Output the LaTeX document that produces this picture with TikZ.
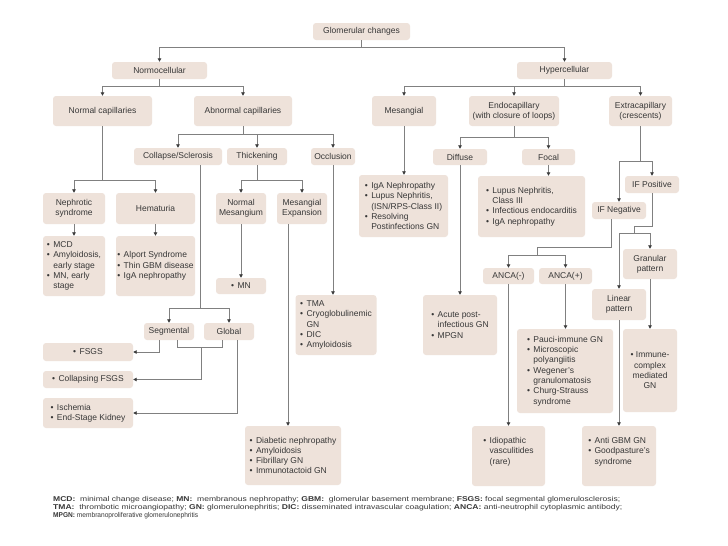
\documentclass[tikz,border=0pt]{standalone}
\usepackage{graphicx}
\usepackage{fontspec}
\setmainfont{Liberation Sans}
\usetikzlibrary{arrows.meta}
\definecolor{boxc}{RGB}{238,226,218}
\definecolor{linec}{RGB}{128,128,128}
\definecolor{txtc}{RGB}{55,55,55}
\definecolor{tipc}{RGB}{60,60,60}
\newcommand\bu{\makebox[0.75em][l]{•}}
\newcommand\ind{\hspace*{0.75em}}
\begin{document}
\begin{tikzpicture}[x=1pt,y=-1pt,
  box/.style={rectangle,rounded corners=3pt,fill=boxc,draw=none,text=txtc,inner sep=0pt,
    font=\fontsize{8.5}{10.3}\selectfont,align=center},
  lst/.style={box,align=left},
  wh/.style 2 args={minimum width=#1pt,minimum height=#2pt},
  ln/.style={draw=linec,line width=1pt},
  arr/.style={ln,-{Triangle[length=3.5pt,width=3.5pt,color=tipc]}},
  foot/.style={anchor=west,inner sep=0pt,text=txtc,font=\fontsize{7}{8}\selectfont}]
\useasboundingbox (0,0) rectangle (728,546);
\fill[white] (0,0) rectangle (728,546);

% level 0-2
\node[box,wh={97}{17}] (gc) at (361.5,31.5) {Glomerular changes};
\node[box,wh={95}{17}] (normo) at (159.5,70.5) {Normocellular};
\node[box,wh={95}{17}] (hyper) at (564.5,70.5) {Hypercellular};
\node[box,wh={99}{30}] (ncap) at (102.5,111) {Normal capillaries};
\node[box,wh={98}{30}] (acap) at (243,111) {Abnormal capillaries};
\node[box,wh={64}{30}] (mes) at (404,111) {Mesangial};
\node[box,wh={90}{30}] (endo) at (514,111) {Endocapillary\\(with closure of loops)};
\node[box,wh={63}{30}] (extra) at (640.5,111) {Extracapillary\\(crescents)};
% level 3
\node[box,wh={88}{17}] (collapse) at (178,156.5) {Collapse/Sclerosis};
\node[box,wh={60}{17}] (thick) at (257,156.5) {Thickening};
\node[box,wh={44}{17}] (occl) at (333,156.5) {Occlusion};
\node[box,wh={54}{16}] (diffuse) at (460,157) {Diffuse};
\node[box,wh={53}{16}] (focal) at (548.5,157) {Focal};
% level 4
\node[box,wh={62}{31}] (nephrotic) at (74,208.5) {Nephrotic\\syndrome};
\node[box,wh={79}{31}] (hematuria) at (155.5,208.5) {Hematuria};
\node[box,wh={50}{31}] (normmes) at (241,208.5) {Normal\\Mesangium};
\node[box,wh={50}{31}] (mesexp) at (302,208.5) {Mesangial\\Expansion};
\node[lst,wh={89}{62}] (mesres) at (403.5,206) {\bu IgA Nephropathy\\ \bu Lupus Nephritis,\\ \ind (ISN/RPS-Class II)\\ \bu Resolving\\ \ind Postinfections GN};
\node[lst,wh={107}{61}] (focalres) at (531.5,206.5) {\bu Lupus Nephritis,\\ \ind Class III\\ \bu Infectious endocarditis\\ \bu IgA nephropathy};
\node[box,wh={54}{17}] (ifpos) at (652,184.5) {IF Positive};
\node[box,wh={54}{17}] (ifneg) at (619,210.5) {IF Negative};
% level 5
\node[lst,wh={62}{60}] (mcd) at (74,266) {\bu MCD\\ \bu Amyloidosis,\\ \ind early stage\\ \bu MN, early\\ \ind stage};
\node[lst,wh={79}{60}] (alport) at (155.5,266) {\bu Alport Syndrome\\ \bu Thin GBM disease\\ \bu IgA nephropathy};
\node[box,wh={50}{16}] (mn) at (241,286) {\bu MN};
\node[box,wh={54}{30}] (granular) at (650,264) {Granular\\pattern};
\node[box,wh={51}{16}] (ancaneg) at (508.5,276) {ANCA(-)};
\node[box,wh={53}{16}] (ancapos) at (565.5,276) {ANCA(+)};
\node[box,wh={54}{31}] (linear) at (619,304.5) {Linear\\pattern};
\node[lst,wh={81}{60}] (tma) at (336,325) {\bu TMA\\ \bu Cryoglobulinemic\\ \ind GN\\ \bu DIC\\ \bu Amyloidosis};
\node[lst,wh={74}{60}] (acute) at (460,325) {\bu Acute post-\\ \ind infectious GN\\ \bu MPGN};
\node[box,wh={50}{17}] (seg) at (169,331.5) {Segmental};
\node[box,wh={50}{17}] (glob) at (229,331.5) {Global};
\node[box,wh={90}{18}] (fsgs) at (88,352) {\bu FSGS};
\node[box,wh={90}{17}] (collfsgs) at (88,379.5) {\bu Collapsing FSGS};
\node[lst,wh={90}{30}] (isch) at (88,413) {\bu Ischemia\\ \bu End-Stage Kidney};
\node[lst,wh={96}{84}] (pauci) at (565,371) {\bu Pauci-immune GN\\ \bu Microscopic\\ \ind polyangiitis\\ \bu Wegener's\\ \ind granulomatosis\\ \bu Churg-Strauss\\ \ind syndrome};
\node[box,wh={54}{83}] (immune) at (650,370.5) {• Immune-\\complex\\mediated\\GN};
\node[lst,wh={96}{59}] (diab) at (293,455.5) {\bu Diabetic nephropathy\\ \bu Amyloidosis\\ \bu Fibrillary GN\\ \bu Immunotactoid GN};
\node[lst,wh={73}{60}] (idio) at (508.5,456) {\bu Idiopathic\\ \ind vasculitides\\ \ind (rare)\\ \mbox{}};
\node[lst,wh={74}{60}] (antigbm) at (619,456) {\bu Anti GBM GN\\ \bu Goodpasture's\\ \ind syndrome\\ \mbox{}};

% connectors
\draw[ln] (gc.south) -- (gc.south |- 0,47) coordinate (j1);
\draw[arr] (j1) -| (normo.north);
\draw[arr] (j1) -| (hyper.north);
\draw[ln] (normo.south) -- (normo.south |- 0,86) coordinate (j2);
\draw[arr] (j2) -| (ncap.north);
\draw[arr] (j2) -| (acap.north);
\draw[ln] (hyper.south) -- (hyper.south |- 0,86) coordinate (j3);
\draw[arr] (j3) -| (mes.north);
\draw[arr] (j3) -| (endo.north);
\draw[arr] (j3) -| (extra.north);
\draw[ln] (acap.south) -- (acap.south |- 0,134) coordinate (j4);
\draw[arr] (j4) -| (collapse.north);
\draw[arr] (j4) -| (thick.north);
\draw[arr] (j4) -| (occl.north);
\draw[ln] (endo.south) -- (endo.south |- 0,137) coordinate (j5);
\draw[arr] (j5) -| (diffuse.north);
\draw[arr] (j5) -| (focal.north);
\draw[ln] (ncap.south) -- (ncap.south |- 0,180) coordinate (j6);
\draw[arr] (j6) -| (nephrotic.north);
\draw[arr] (j6) -| (hematuria.north);
\draw[ln] (thick.south) -- (thick.south |- 0,180) coordinate (j7);
\draw[arr] (j7) -| (normmes.north);
\draw[arr] (j7) -| (mesexp.north);
\draw[arr] (mes.south) -- (mesres.north -| mes.south);
\draw[arr] (focal.south) -- (focalres.north -| focal.south);
\draw[arr] (nephrotic.south) -- (mcd.north);
\draw[arr] (hematuria.south) -- (alport.north);
\draw[arr] (normmes.south) -- (mn.north);
\draw[arr] (occl.south) -- (tma.north -| occl.south);
\coordinate (me1) at ([xshift=-14pt]mesexp.south);
\draw[arr] (me1) -- (diab.north -| me1);
\draw[arr] (diffuse.south) -- (acute.north);
% collapse / sclerosis
\coordinate (c1) at ([xshift=22pt]collapse.south);
\draw[ln] (c1) -- (c1 |- 0,308) coordinate (j8);
\draw[arr] (j8) -| (seg.north);
\draw[arr] (j8) -| (glob.north);
\coordinate (s1) at ([xshift=-10pt]seg.south);
\draw[arr] (s1) |- (fsgs.east);
\coordinate (s2) at ([xshift=8pt]seg.south);
\coordinate (g1) at ([xshift=-7pt]glob.south);
\draw[ln] (s2) -- (s2 |- 0,347) -- (g1 |- 0,347) -- (g1);
\coordinate (m1) at (201,347);
\draw[arr] (m1) |- (collfsgs.east);
\coordinate (g2) at ([xshift=8pt]glob.south);
\draw[arr] (g2) |- (isch.east);
% extracapillary
\draw[ln] (extra.south) -- (extra.south |- 0,161) coordinate (j9);
\draw[arr] (j9) -| (ifpos.north);
\draw[arr] (j9) -| (ifneg.north);
\coordinate (k1) at (634,226);
\coordinate (k2) at (634,233);
\draw[ln] (ifpos.south) |- (k1) -- (k2);
\draw[arr] (k2) -| (granular.north);
\draw[arr] (k2) -| (linear.north);
\coordinate (n1) at ([xshift=-8pt]ifneg.south);
\coordinate (k3) at (537,247);
\coordinate (k4) at (537,255);
\draw[ln] (n1) |- (k3) -- (k4);
\draw[arr] (k4) -| (ancaneg.north);
\draw[arr] (k4) -| (ancapos.north);
\draw[arr] (ancaneg.south) -- (idio.north -| ancaneg.south);
\draw[arr] (ancapos.south) -- (pauci.north -| ancapos.south);
\draw[arr] (granular.south) -- (immune.north);
\draw[arr] (linear.south) -- (antigbm.north);

% footnote
\node[foot] (f1) at (53,500) {\resizebox{567pt}{\height}{\textbf{MCD:}\ \ minimal change disease; \textbf{MN:}\ \ membranous nephropathy; \textbf{GBM:}\ \ glomerular basement membrane; \textbf{FSGS:} focal segmental glomerulosclerosis;}};
\node[foot] (f2) at (53,508) {\resizebox{569pt}{\height}{\textbf{TMA:}\ \ thrombotic microangiopathy; \textbf{GN:} glomerulonephritis; \textbf{DIC:} disseminated intravascular coagulation; \textbf{ANCA:} anti-neutrophil cytoplasmic antibody;}};
\node[foot] (f3) at (53,515.5) {\resizebox{145pt}{\height}{\textbf{MPGN:} membranoproliferative glomerulonephritis}};
\end{tikzpicture}
\end{document}
